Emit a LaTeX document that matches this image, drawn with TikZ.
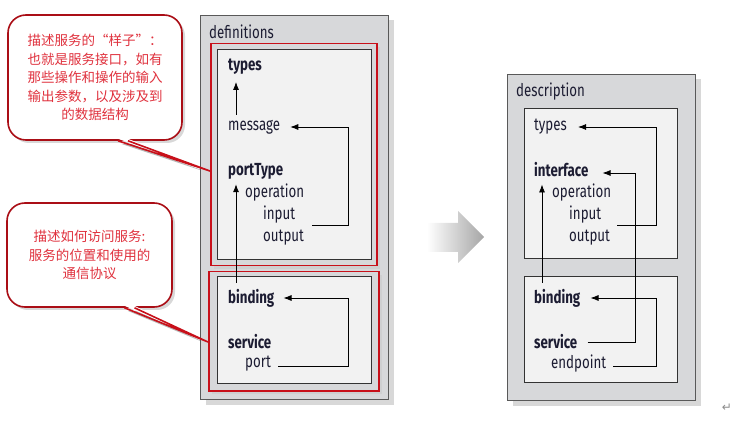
\documentclass[tikz,border=0pt]{standalone}
\usepackage{fontspec}
\setmainfont{Fira Sans}
\newfontfamily\lblfont[FakeStretch=0.76]{Fira Sans}
\newfontfamily\cjk{Noto Sans CJK SC}
\newfontfamily\symfont{DejaVu Sans}
\usetikzlibrary{arrows.meta,shadows}
\pgfdeclarelayer{back}
\pgfsetlayers{back,main}
\definecolor{ink}{HTML}{1C1C32}
\definecolor{boxgray}{HTML}{D7D8DA}
\definecolor{paper}{HTML}{F2F2F2}
\definecolor{hlred}{HTML}{C8101A}
\definecolor{notered}{HTML}{E0323E}

\begin{document}
\begin{tikzpicture}[x=1pt,y=-1pt,
    every node/.style={font=\lblfont\fontsize{17.5}{20}\selectfont, text=ink},
    lbl/.style={anchor=west, inner sep=1pt},
    key/.style={lbl, font=\lblfont\bfseries\fontsize{17.5}{20}\selectfont},
    outerbox/.style={draw=black!65, fill=boxgray, line width=1pt, anchor=north west, inner sep=0pt,
        drop shadow={shadow xshift=5pt, shadow yshift=-5pt, fill=black!30}},
    innerbox/.style={draw=black!80, fill=paper, line width=1pt, anchor=north west, inner sep=0pt},
    hlbox/.style={draw=hlred, fill=boxgray, line width=1.5pt, anchor=north west, inner sep=0pt,
        drop shadow={shadow xshift=3pt, shadow yshift=-3pt, fill=black!22}},
    note/.style={draw=hlred!85!black, fill=white, line width=1.6pt, rounded corners=18pt, align=center,
        text=notered, font=\cjk\fontsize{13.5}{18.5}\selectfont,
        drop shadow={shadow xshift=3pt, shadow yshift=-3pt, fill=black!30}},
    link/.style={draw=black, line width=0.8pt, -{Latex[length=8pt,width=6pt]}}]
    \useasboundingbox (0,0) rectangle (739,430);

    \node[outerbox, minimum width=188pt, minimum height=384pt] (defs) at (200,15) {};
    \node[lbl] (defsT) at (208,32) {definitions};
    \node[hlbox, minimum width=166pt, minimum height=222pt] (abstract) at (210,43) {};
    \node[innerbox, minimum width=154pt, minimum height=210pt] (absIn) at (217,49) {};
    \node[hlbox, minimum width=170pt, minimum height=119pt] (concrete) at (208,271) {};
    \node[innerbox, minimum width=154pt, minimum height=107pt] (conIn) at (217,276) {};

    \node[key] (typesL) at (227,67) {types};
    \node[lbl] (messageL) at (227,127) {message};
    \node[key] (portTypeL) at (227,171) {portType};
    \node[lbl] (operationL) at (244,193) {operation};
    \node[lbl] (inputL) at (262,215) {input};
    \node[lbl] (outputL) at (262,238) {output};
    \node[key] (bindingL) at (227,298) {binding};
    \node[key] (serviceL) at (227,342) {service};
    \node[lbl] (portL) at (244,364) {port};

    \coordinate (bendL) at (348,0);
    \draw[link] ([xshift=9pt,yshift=4pt]messageL.north west) -- ([xshift=9pt,yshift=-6pt]typesL.south west);
    \draw[link] ([xshift=16pt,yshift=-10pt]inputL.east) -| (bendL |- messageL.east) -- ([xshift=9pt]messageL.east);
    \draw[link] ([xshift=9pt,yshift=5pt]bindingL.north west) -- ([xshift=9pt,yshift=-4pt]portTypeL.south west);
    \draw[link] ([xshift=6pt,yshift=-2pt]portL.east) -| (bendL |- bindingL.east) -- ([xshift=8pt]bindingL.east);

    \node[outerbox, minimum width=188pt, minimum height=326pt] (desc) at (507,74) {};
    \node[lbl] (descT) at (515,92) {description};
    \node[innerbox, minimum width=153pt, minimum height=150pt] (ifcIn) at (524,108) {};
    \node[innerbox, minimum width=153pt, minimum height=106pt] (impIn) at (524,276) {};

    \node[lbl] (typesR) at (533,127) {types};
    \node[key] (interfaceR) at (533,170) {interface};
    \node[lbl] (operationR) at (551,193) {operation};
    \node[lbl] (inputR) at (568,215) {input};
    \node[lbl] (outputR) at (568,238) {output};
    \node[key] (bindingR) at (533,298) {binding};
    \node[key] (serviceR) at (533,342) {service};
    \node[lbl] (endpointR) at (550,364) {endpoint};

    \coordinate (bendR1) at (656,0);
    \coordinate (bendR2) at (635,0);
    \coordinate (ifTip) at ([xshift=13pt,yshift=-3pt]interfaceR.east);
    \draw[link] ([xshift=15pt,yshift=-10pt]inputR.east) -| (bendR1 |- typesR.east) -- ([xshift=10pt]typesR.east);
    \draw[link] ([xshift=9pt]serviceR.east) -| (bendR2 |- ifTip) -- (ifTip);
    \draw[link] ([xshift=6pt,yshift=-2pt]endpointR.east) -| (bendR1 |- bindingR.east) -- ([xshift=9pt]bindingR.east);
    \draw[link] ([xshift=9pt,yshift=5pt]bindingR.north west) -- ([xshift=9pt,yshift=-6pt]interfaceR.south west);

    \shade[left color=white, right color=black!35]
        (427,223) -- (458,223) -- (458,211) -- (484,237) -- (458,263) -- (458,252) -- (427,252) -- cycle;

    \coordinate (tip1) at (abstract.west |- portTypeL.west);
    \coordinate (tip2) at (concrete.west |- serviceL.west);
    \node[note, minimum width=174pt, minimum height=125pt] (note1) at (95,77.5)
        {描述服务的“样子”：\\也就是服务接口，如有\\那些操作和操作的输入\\输出参数，以及涉及到\\的数据结构};
    \node[note, minimum width=165pt, minimum height=104pt] (note2) at (89.5,255)
        {描述如何访问服务:\\服务的位置和使用的\\通信协议};
    \begin{pgfonlayer}{back}
        \fill[black!28] ([xshift=26pt,yshift=-3pt]note1.south) -- ([xshift=2pt,yshift=-3pt]tip1) -- ([xshift=36pt,yshift=-3pt]note1.south) -- cycle;
        \fill[black!28] ([xshift=38pt,yshift=-3pt]note2.south) -- ([xshift=2pt,yshift=-3pt]tip2) -- ([xshift=48pt,yshift=-3pt]note2.south) -- cycle;
    \end{pgfonlayer}
    \fill[white] ([xshift=23pt,yshift=2pt]note1.south) -- (tip1) -- ([xshift=33pt,yshift=2pt]note1.south) -- cycle;
    \draw[hlred, line width=1.6pt] ([xshift=23pt]note1.south) -- (tip1) -- ([xshift=33pt]note1.south);
    \fill[white] ([xshift=35pt,yshift=2pt]note2.south) -- (tip2) -- ([xshift=45pt,yshift=2pt]note2.south) -- cycle;
    \draw[hlred, line width=1.6pt] ([xshift=35pt]note2.south) -- (tip2) -- ([xshift=45pt]note2.south);

    \node[text=black!45, font=\symfont\fontsize{12}{12}\selectfont] (ret) at (727,408) {↵};
\end{tikzpicture}
\end{document}
